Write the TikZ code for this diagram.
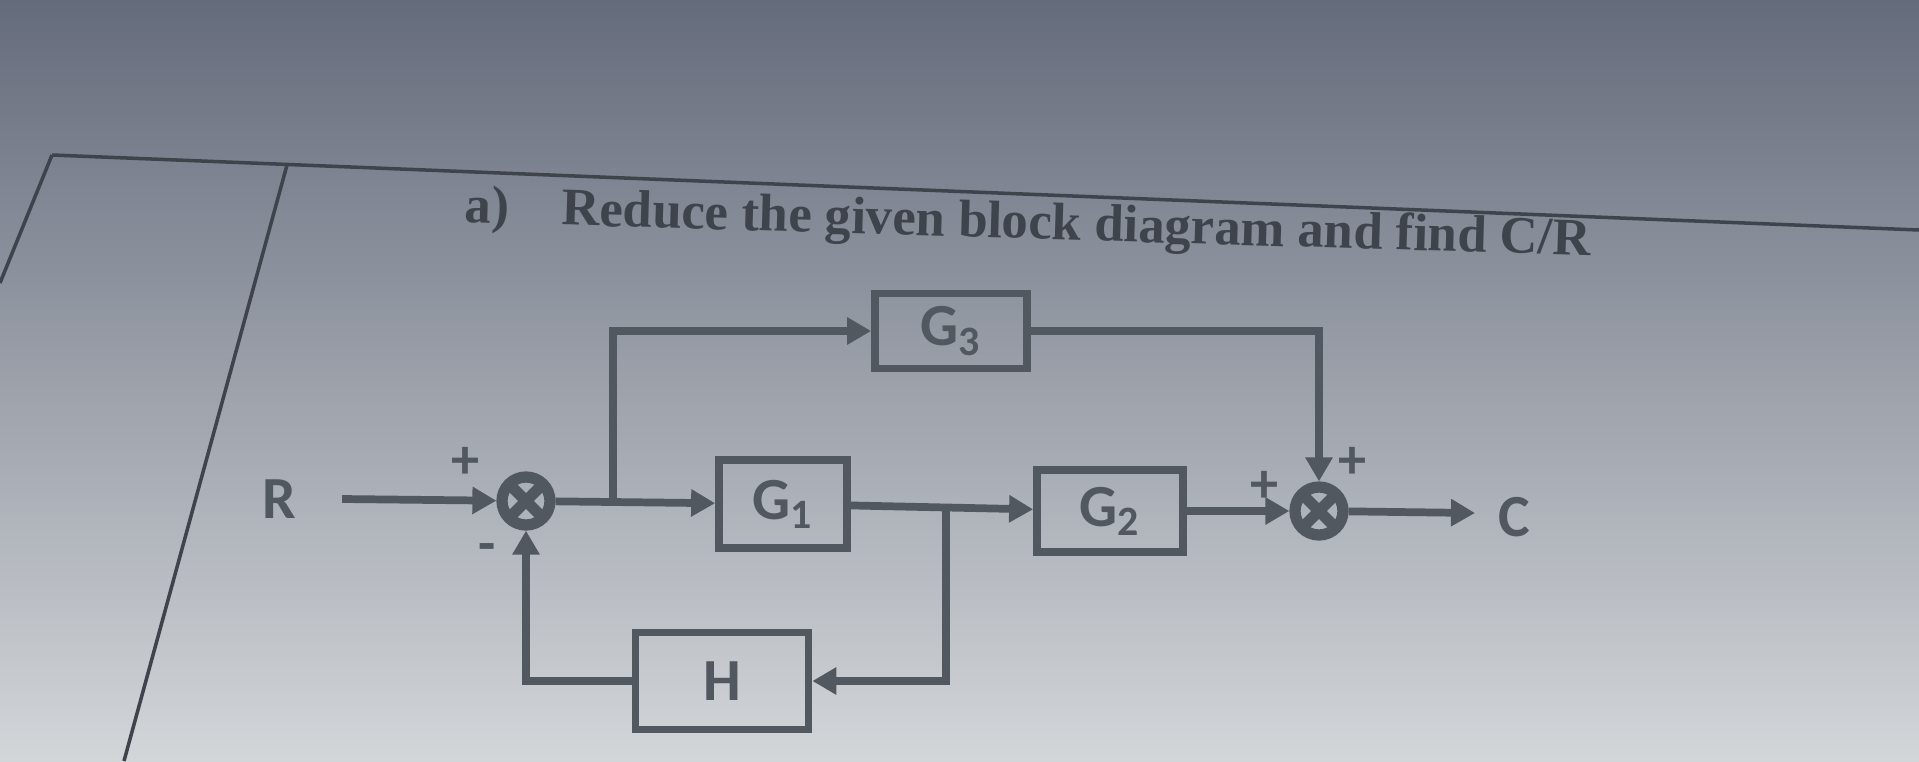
\documentclass[tikz,border=0pt]{standalone}
\usepackage{fontspec}
\setmainfont{Liberation Serif}
\newfontfamily\blockfont{Carlito}
\usetikzlibrary{arrows.meta,positioning,calc}

\definecolor{screentop}{HTML}{646B7B}
\definecolor{screenmid}{HTML}{B0B5BC}
\definecolor{screenbot}{HTML}{D3D6D9}
\definecolor{ink}{HTML}{52585F}
\definecolor{rulecol}{HTML}{3F444C}

\begin{document}
\begin{tikzpicture}[
    block/.style={draw=ink, line width=2.2pt, inner sep=0pt, text=ink,
        font=\blockfont\bfseries\fontsize{17}{17}\selectfont},
    sumpoint/.style={circle, draw=ink, line width=3.2pt, minimum size=0.48cm, inner sep=0pt,
        path picture={\draw[ink, line width=3.2pt]
            (path picture bounding box.north west) -- (path picture bounding box.south east)
            (path picture bounding box.north east) -- (path picture bounding box.south west);}},
    signal/.style={ink, line width=2.2pt, -{Triangle[length=0.24cm, width=0.26cm]}},
    sign/.style={text=ink, inner sep=0pt, font=\blockfont\bfseries\fontsize{16}{16}\selectfont},
    termtext/.style={text=ink, inner sep=1pt, font=\blockfont\bfseries\fontsize{17}{17}\selectfont}
]

    % Screen background
    \shade[top color=screentop, middle color=screenmid, bottom color=screenbot] (0,0) rectangle (19.19,7.61);
    \useasboundingbox (0,0) rectangle (19.19,7.61);

    % Table rules
    \draw[rulecol, line width=1pt] (0.52,6.06) -- (19.19,5.31);
    \draw[rulecol, line width=1pt] (0.52,6.06) -- (0,4.78);
    \draw[rulecol, line width=1pt] (2.87,5.96) -- (1.24,0);

    % Question
    \node[text=rulecol, rotate=-1.7, font=\bfseries\fontsize{15}{18}\selectfont] (title) at (10.28,5.35)
        {a)\quad Reduce the given block diagram and find C/R};

    % Blocks and summing points
    \node[sumpoint] (sumin) at (5.26,2.60) {};
    \node[block, minimum width=1.28cm, minimum height=0.88cm] (G1) at (7.83,2.57) {G\textsubscript{1}};
    \node[block, minimum width=1.52cm, minimum height=0.75cm] (G3) at (9.51,4.30) {G\textsubscript{3}};
    \node[block, minimum width=1.46cm, minimum height=0.82cm] (G2) at (11.10,2.50) {G\textsubscript{2}};
    \node[sumpoint] (sumout) at (13.19,2.50) {};
    \node[block, minimum width=1.73cm, minimum height=0.97cm] (H) at (7.22,0.80) {H};

    % Input and output
    \node[termtext] (R) at (2.79,2.62) {R};
    \node[termtext] (C) at (15.14,2.44) {C};

    % Signs
    \node[sign] (pin) at ($(sumin)+(-0.61,0.38)$) {+};
    \node[sign] (min) at ($(sumin)+(-0.39,-0.52)$) {-};
    \node[sign] (pout) at ($(sumout)+(-0.55,0.24)$) {+};
    \node[sign] (pup) at ($(sumout)+(0.33,0.48)$) {+};

    % Branch points
    \coordinate (split1) at ($(sumin.east)!0.36!(G1.west)$);
    \coordinate (split2) at ($(G1.east)!0.52!(G2.west)$);
    \coordinate (cend) at ($(sumout)+(1.56,-0.02)$);

    % Forward paths
    \draw[signal] ([xshift=0.42cm]R.east) -- (sumin);
    \draw[signal] (sumin) -- (G1);
    \draw[signal] (split1) |- (G3.west);
    \draw[signal] (G1) -- (G2);
    \draw[signal] (G2) -- (sumout);
    \draw[signal] (G3.east) -| (sumout.north);
    \draw[signal] (sumout) -- (cend);

    % Feedback through H
    \draw[signal] (split2) |- (H.east);
    \draw[signal] (H.west) -| (sumin.south);

\end{tikzpicture}
\end{document}
